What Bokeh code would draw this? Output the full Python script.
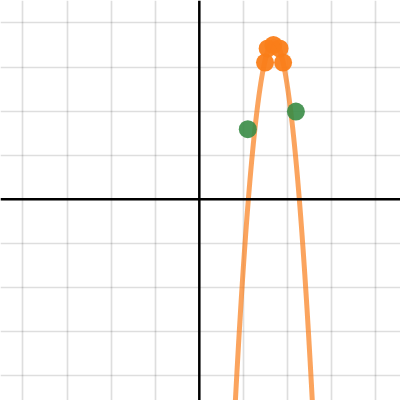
import numpy as np
from bokeh.plotting import figure
from bokeh.models import Span, FixedTicker
from bokeh.embed import file_html
from bokeh.resources import INLINE

# data
orange_x = [1.49, 1.90, 1.55, 1.68, 1.82]
orange_y = [3.10, 3.10, 3.42, 3.50, 3.42]
green_x = [1.10, 2.19]
green_y = [1.59, 1.99]
# parabola y = k - a (x - h)^2
curve_a = 10.7
curve_h = 1.69
curve_k = 3.57
grid_ticks = [-4, -3, -2, -1, 0, 1, 2, 3, 4]

xs = np.linspace(0.6, 2.8, 400)
ys = curve_k - curve_a * (xs - curve_h) ** 2

p = figure(width=400, height=400, output_backend="svg", toolbar_location=None,
           x_range=(-4.508, 4.562), y_range=(-4.562, 4.508), min_border=0)
p.axis.visible = False
p.outline_line_color = None
p.background_fill_color = "white"
p.xgrid.ticker = FixedTicker(ticks=grid_ticks)
p.ygrid.ticker = FixedTicker(ticks=grid_ticks)
for g in (p.xgrid, p.ygrid):
    g.grid_line_color = "black"
    g.grid_line_alpha = 0.13
    g.grid_line_width = 1.7

p.add_layout(Span(location=0, dimension="height", line_color="black", line_width=2.5))
p.add_layout(Span(location=0, dimension="width", line_color="black", line_width=2.5))

p.scatter(orange_x, orange_y, size=18, fill_color="#fa7e19", line_color=None, fill_alpha=0.95)
p.line(xs, ys, line_color="#fa7e19", line_alpha=0.7, line_width=5)
p.scatter(green_x, green_y, size=18, fill_color="#388c46", line_color=None, fill_alpha=0.9)

open("out.html", "w").write(file_html(p, INLINE))
